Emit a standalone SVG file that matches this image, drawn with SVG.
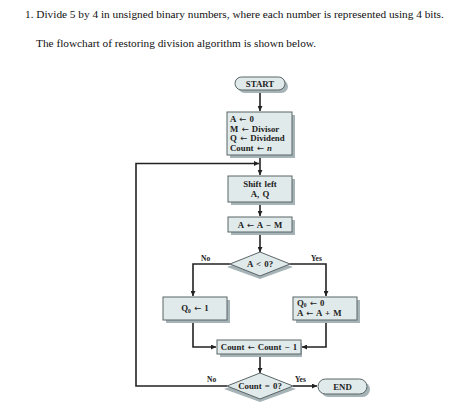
<svg xmlns="http://www.w3.org/2000/svg" width="474" height="405" viewBox="0 0 474 405">
<defs>
<marker id="ah" viewBox="0 0 10 10" refX="10" refY="5" markerWidth="5" markerHeight="5" orient="auto" markerUnits="userSpaceOnUse">
<path d="M0,0 L10,5 L0,10 z" fill="#222"/>
</marker>
<style>
.title{font-family:"Liberation Serif",serif;font-size:11.3px;fill:#111}
.box{fill:#e1eaea;stroke:#5a6466;stroke-width:1}
.sh{fill:#a6b4b8}
.t{font-family:"Liberation Serif",serif;font-size:8.8px;font-weight:bold;fill:#222;word-spacing:1px}
.ar{font-family:"DejaVu Sans",sans-serif;font-weight:normal;font-size:8.5px}
.lbl{font-family:"Liberation Serif",serif;font-size:7.5px;font-weight:bold;fill:#222}
.ln{fill:none;stroke:#222;stroke-width:1.6}
</style>
</defs>
<rect width="474" height="405" fill="#fff"/>
<text class="title" x="25" y="18">1.  Divide 5 by 4 in unsigned binary numbers, where each number is represented using 4 bits.</text>
<text class="title" x="36" y="47">The flowchart of restoring division algorithm is shown below.</text>

<g id="connectors">
<path class="ln" d="M260,90 V111" marker-end="url(#ah)"/>
<path class="ln" d="M260,155 V175" marker-end="url(#ah)"/>
<path class="ln" d="M260,202 V216" marker-end="url(#ah)"/>
<path class="ln" d="M260,232 V252" marker-end="url(#ah)"/>
<path class="ln" d="M230,264 H193 V296" marker-end="url(#ah)"/>
<path class="ln" d="M290,264 H326 V296" marker-end="url(#ah)"/>
<path class="ln" d="M193,320 V347 H216" marker-end="url(#ah)"/>
<path class="ln" d="M326,320 V347 H302" marker-end="url(#ah)"/>
<path class="ln" d="M260,354 V373" marker-end="url(#ah)"/>
<path class="ln" d="M293,386 H317" marker-end="url(#ah)"/>
<path class="ln" d="M227,386 H136 V163.5 H259" marker-end="url(#ah)"/>
<text class="lbl" x="201" y="261">No</text>
<text class="lbl" x="311" y="261">Yes</text>
<text class="lbl" x="207" y="382">No</text>
<text class="lbl" x="295" y="382">Yes</text>
</g>

<g id="start">
<rect class="sh" x="238" y="80" width="50" height="13" rx="6.5"/>
<rect class="box" x="235" y="77" width="50" height="13" rx="6.5"/>
<text class="t" x="260" y="86.5" text-anchor="middle">START</text>
</g>

<g id="init">
<rect class="sh" x="230" y="115" width="65" height="43"/>
<rect class="box" x="227" y="112" width="65" height="43"/>
<text class="t" x="230" y="122">A <tspan class="ar">←</tspan> 0</text>
<text class="t" x="230" y="131.5">M <tspan class="ar">←</tspan> Divisor</text>
<text class="t" x="230" y="141">Q <tspan class="ar">←</tspan> Dividend</text>
<text class="t" x="230" y="150.5">Count <tspan class="ar">←</tspan> <tspan font-style="italic">n</tspan></text>
</g>

<g id="shift">
<rect class="sh" x="231" y="179" width="64" height="26"/>
<rect class="box" x="228" y="176" width="64" height="26"/>
<text class="t" x="260" y="186.5" text-anchor="middle">Shift left</text>
<text class="t" x="260" y="197" text-anchor="middle">A, Q</text>
</g>

<g id="sub">
<rect class="sh" x="231" y="220" width="64" height="15"/>
<rect class="box" x="228" y="217" width="64" height="15"/>
<text class="t" x="260" y="227.8" text-anchor="middle">A <tspan class="ar">←</tspan> A − M</text>
</g>

<g id="cond1">
<polygon class="sh" points="260,255 293,267 260,279 227,267"/>
<polygon class="box" points="260,252 290,264 260,276 230,264"/>
<text class="t" x="260" y="267" text-anchor="middle">A &lt; 0?</text>
</g>

<g id="q1">
<rect class="sh" x="166" y="300" width="64" height="23"/>
<rect class="box" x="163" y="297" width="64" height="23"/>
<text class="t" x="195" y="311" text-anchor="middle">Q<tspan font-size="5.5" dy="1.5">0</tspan><tspan dy="-1.5"> </tspan><tspan class="ar">←</tspan> 1</text>
</g>

<g id="q0">
<rect class="sh" x="296" y="300" width="64" height="23"/>
<rect class="box" x="293" y="297" width="64" height="23"/>
<text class="t" x="297" y="305.5">Q<tspan font-size="5.5" dy="1.5">0</tspan><tspan dy="-1.5"> </tspan><tspan class="ar">←</tspan> 0</text>
<text class="t" x="297" y="315.5">A <tspan class="ar">←</tspan> A + M</text>
</g>

<g id="count">
<rect class="sh" x="220" y="343" width="82" height="14"/>
<rect class="box" x="217" y="340" width="84" height="14"/>
<text class="t" x="259" y="350.3" text-anchor="middle">Count <tspan class="ar">←</tspan> Count − 1</text>
</g>

<g id="cond2">
<polygon class="sh" points="260,376 296,389 260,402 224,389"/>
<polygon class="box" points="260,373 293,386 260,399 227,386"/>
<text class="t" x="260" y="389" text-anchor="middle">Count = 0?</text>
</g>

<g id="end">
<rect class="sh" x="321" y="382" width="49" height="15" rx="7.5"/>
<rect class="box" x="318" y="379" width="49" height="15" rx="7.5"/>
<text class="t" x="342.5" y="389.5" text-anchor="middle">END</text>
</g>
</svg>
